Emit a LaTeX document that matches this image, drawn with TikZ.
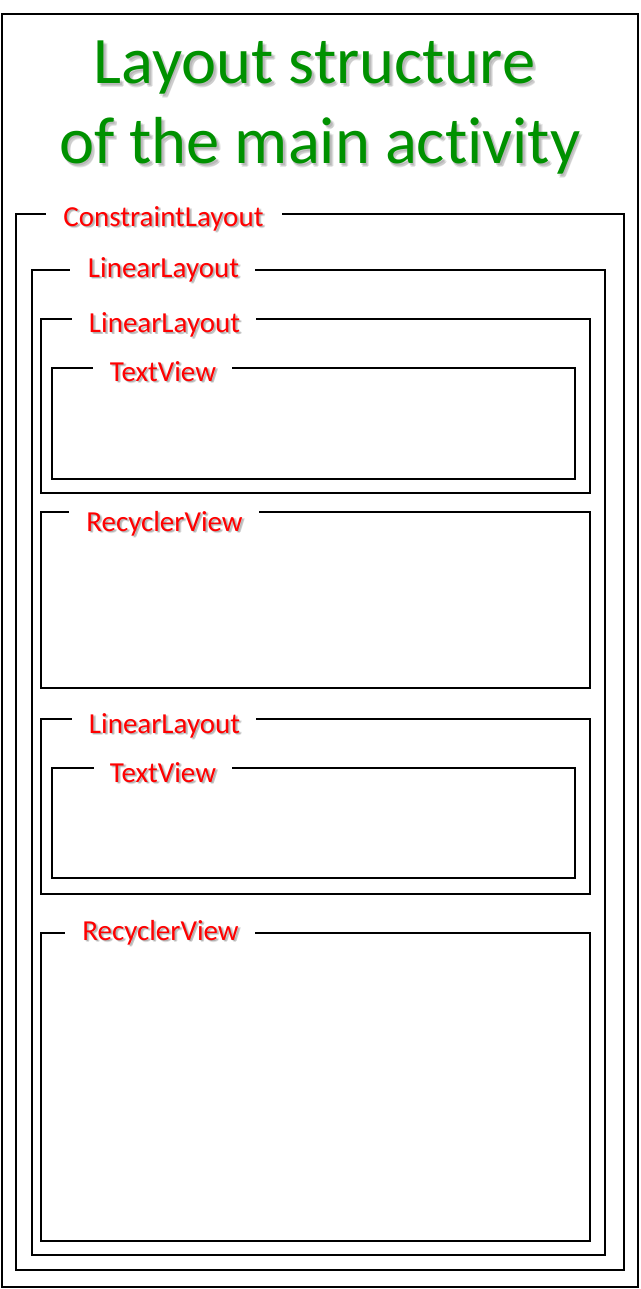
\documentclass[tikz,border=0pt]{standalone}
\usepackage{fontspec}
\setmainfont{Carlito}[Ligatures=NoCommon]
\definecolor{titlegreen}{RGB}{0,145,0}
\definecolor{labelred}{RGB}{255,0,0}
\tikzset{
  x=1pt, y=-1pt,
  boxline/.style={draw=black, line width=2pt, line join=miter, line cap=rect},
  lblfont/.style={font=\fontsize{29}{31}\selectfont},
  lbl/.style={anchor=base, inner sep=0pt, text=labelred, lblfont},
  lblshadow/.style={anchor=base, inner sep=0pt, text=black, text opacity=0.12, lblfont},
  ttlfont/.style={font=\fontsize{66.5}{70}\selectfont},
  ttl/.style={anchor=base west, inner sep=0pt, text=titlegreen, ttlfont},
  ttlshadow/.style={anchor=base west, inner sep=0pt, text=black, text opacity=0.1, ttlfont},
}
% #1 x-left, #2 y-top, #3 x-right, #4 y-bottom, #5 gap start, #6 gap end
\newcommand\groupframe[6]{%
  \draw[boxline] (#6,#2) -- (#3,#2) -- (#3,#4) -- (#1,#4) -- (#1,#2) -- (#5,#2);}
% #1 name, #2 x, #3 baseline, #4 text
\newcommand\grouplabel[4]{%
  \node[lblshadow] at (#2+1,#3+1.2) {#4};
  \node[lblshadow] at (#2+2,#3+2.2) {#4};
  \node[lblshadow] at (#2+2.6,#3+1.6) {#4};
  \node[lbl] (#1) at (#2,#3) {#4};}
% #1 name, #2 x, #3 baseline, #4 text
\newcommand\titleline[4]{%
  \node[ttlshadow] at (#2+1.5,#3+1.8) {#4};
  \node[ttlshadow] at (#2+2.8,#3+3.2) {#4};
  \node[ttlshadow] at (#2+3.6,#3+2.4) {#4};
  \node[ttl] (#1) at (#2,#3) {#4};}
\begin{document}
\begin{tikzpicture}
\useasboundingbox (0,0) rectangle (640,1289);
\fill[white] (0,0) rectangle (640,1289);
% outer frame
\draw[boxline] (1.5,14) rectangle (637.5,1287);
% title
\titleline{title1}{93.5}{84}{Layout structure}
\titleline{title2}{59}{164}{of the main activity}
% ConstraintLayout
\groupframe{16}{214}{624}{1269.5}{45}{283}
\grouplabel{cl}{163.5}{226}{ConstraintLayout}
% outer LinearLayout
\groupframe{32}{270}{605}{1255}{69}{256}
\grouplabel{llo}{163.5}{277}{LinearLayout}
% LinearLayout 1
\groupframe{41}{318.5}{589.5}{492.7}{71}{257}
\grouplabel{llone}{164.5}{332.7}{LinearLayout}
% TextView 1
\groupframe{51.7}{368}{575}{478.5}{92}{233}
\grouplabel{tvone}{163}{381}{TextView}
% RecyclerView 1
\groupframe{41}{512}{589.5}{687.7}{68}{260}
\grouplabel{rvone}{164.5}{531}{RecyclerView}
% LinearLayout 2
\groupframe{41}{719.3}{589.5}{893.7}{71}{257}
\grouplabel{lltwo}{164.5}{733}{LinearLayout}
% TextView 2
\groupframe{51.7}{767.7}{575}{878.3}{93}{233}
\grouplabel{tvtwo}{163}{782}{TextView}
% RecyclerView 2
\groupframe{41}{933}{589.5}{1241}{64}{256}
\grouplabel{rvtwo}{160.5}{940}{RecyclerView}
\end{tikzpicture}
\end{document}
